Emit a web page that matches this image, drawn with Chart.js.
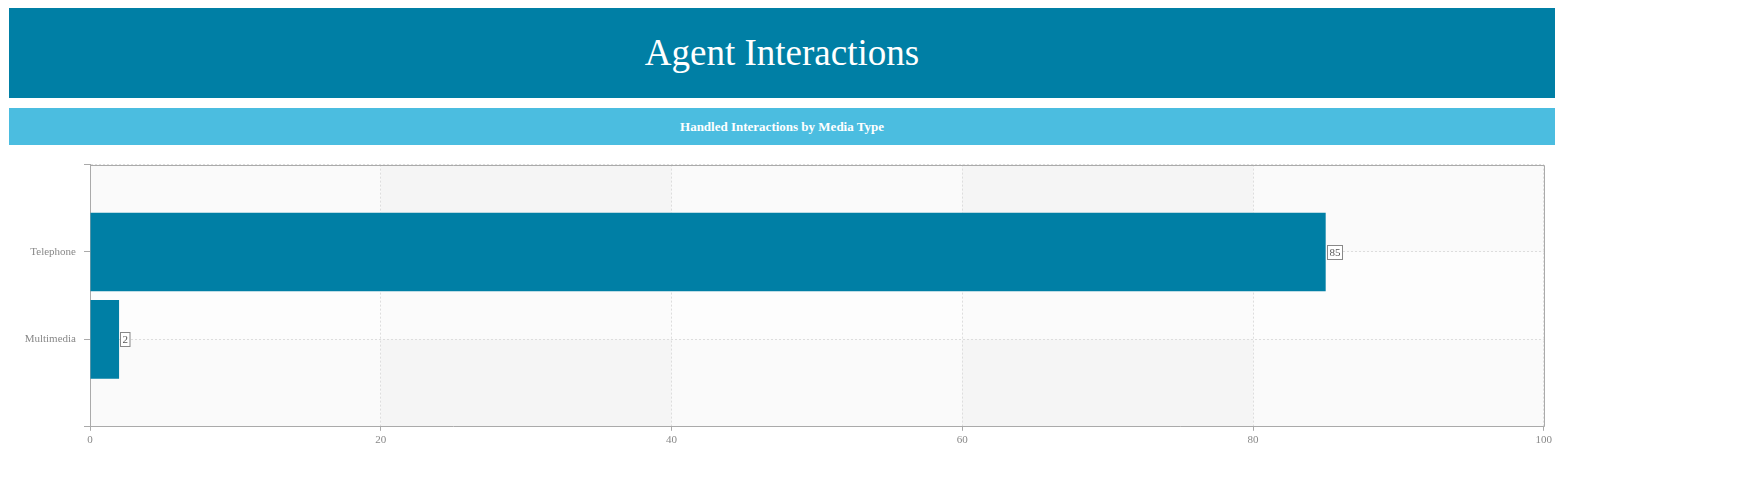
<!DOCTYPE html>
<html>
<head>
<meta charset="utf-8">
<script src="https://cdn.jsdelivr.net/npm/chart.js@4"></script>
<style>
  body { margin: 0; background: #fff; font-family: "Liberation Serif", "Times New Roman", serif; }
  .header { position: absolute; left: 9px; top: 8px; width: 1546px; height: 90px; background: #007FA5;
            color: #fff; font-size: 37px; text-align: center; line-height: 90px; }
  .sub { position: absolute; left: 9px; top: 108px; width: 1546px; height: 37px; background: #4BBDE0;
         color: #fff; font-size: 13px; font-weight: bold; text-align: center; line-height: 37px; }
  .wrap { position: absolute; left: 9px; top: 150px; width: 1546px; height: 300px; }
</style>
</head>
<body>
<div class="header">Agent Interactions</div>
<div class="sub">Handled Interactions by Media Type</div>
<div class="wrap"><canvas id="chart"></canvas></div>
<script>
// Categories (blank slots pad the axis like the original)
const categories = ['', 'Telephone', 'Multimedia', ''];
const interactions = [null, 85, 2, null];
const xTicks = [0, 20, 40, 60, 80, 100];

// Striped plot background + solid frame
const bandPlugin = {
    id: 'bands',
    beforeDraw(chart) {
        const { ctx, chartArea: a, scales: { x, y } } = chart;
        ctx.save();
        for (let i = 0; i < xTicks.length - 1; i++) {
            ctx.fillStyle = i % 2 === 0 ? '#fafafa' : '#f5f5f5';
            const x0 = x.getPixelForValue(xTicks[i]);
            const x1 = x.getPixelForValue(xTicks[i + 1]);
            ctx.fillRect(x0, a.top, x1 - x0, a.bottom - a.top);
        }
        const y0 = y.getPixelForValue(1);
        const y1 = y.getPixelForValue(2);
        ctx.fillStyle = 'rgba(255,255,255,0.6)';
        ctx.fillRect(a.left, y0, a.right - a.left, y1 - y0);
        ctx.restore();
    },
    afterDraw(chart) {
        const { ctx, chartArea: a } = chart;
        ctx.save();
        ctx.strokeStyle = '#aaa';
        ctx.lineWidth = 1;
        ctx.beginPath();
        ctx.moveTo(a.left, Math.round(a.top) + 0.5);
        ctx.lineTo(Math.round(a.right) + 0.5, Math.round(a.top) + 0.5);
        ctx.lineTo(Math.round(a.right) + 0.5, a.bottom);
        ctx.stroke();
        ctx.restore();
    }
};

// Boxed value labels at bar ends
const valueLabels = {
    id: 'valueLabels',
    afterDatasetsDraw(chart) {
        const { ctx } = chart;
        const meta = chart.getDatasetMeta(0);
        ctx.save();
        ctx.font = '11px "Liberation Serif", serif';
        ctx.textBaseline = 'middle';
        meta.data.forEach((bar, i) => {
            const v = interactions[i];
            if (v === null) return;
            const text = String(v);
            const w = ctx.measureText(text).width + 4;
            const bx = Math.round(bar.x) + 1, by = Math.round(bar.y) - 7;
            ctx.fillStyle = '#fff';
            ctx.fillRect(bx, by, w, 14);
            ctx.strokeStyle = '#888';
            ctx.lineWidth = 1;
            ctx.strokeRect(bx + 0.5, by + 0.5, w, 14);
            ctx.fillStyle = '#555';
            ctx.fillText(text, bx + 2.5, bar.y + 1);
        });
        ctx.restore();
    }
};

new Chart(document.getElementById('chart'), {
    type: 'bar',
    data: {
        labels: categories,
        datasets: [{
            data: interactions,
            backgroundColor: '#007FA5',
            barPercentage: 1,
            categoryPercentage: 0.9
        }]
    },
    options: {
        indexAxis: 'y',
        responsive: true,
        maintainAspectRatio: false,
        animation: false,
        layout: { padding: { top: 7, right: 11, left: 0 } },
        plugins: { legend: { display: false }, tooltip: { enabled: false } },
        scales: {
            x: {
                min: 0, max: 100,
                afterBuildTicks: s => { s.ticks = xTicks.map(v => ({ value: v })); },
                grid: { color: '#ddd', tickLength: 4, tickColor: '#aaa' },
                border: { color: '#aaa', dash: [2, 2] },
                ticks: { color: '#888', font: { family: '"Liberation Serif", serif', size: 11 } }
            },
            y: {
                offset: false,
                afterFit: s => { s.width = 81; },
                grid: { offset: false, color: '#ddd', tickLength: 6, tickColor: '#aaa' },
                border: { color: '#aaa', dash: [2, 2] },
                ticks: { color: '#888', padding: 8, font: { family: '"Liberation Serif", serif', size: 11 } }
            }
        }
    },
    plugins: [bandPlugin, valueLabels]
});
</script>
</body>
</html>
